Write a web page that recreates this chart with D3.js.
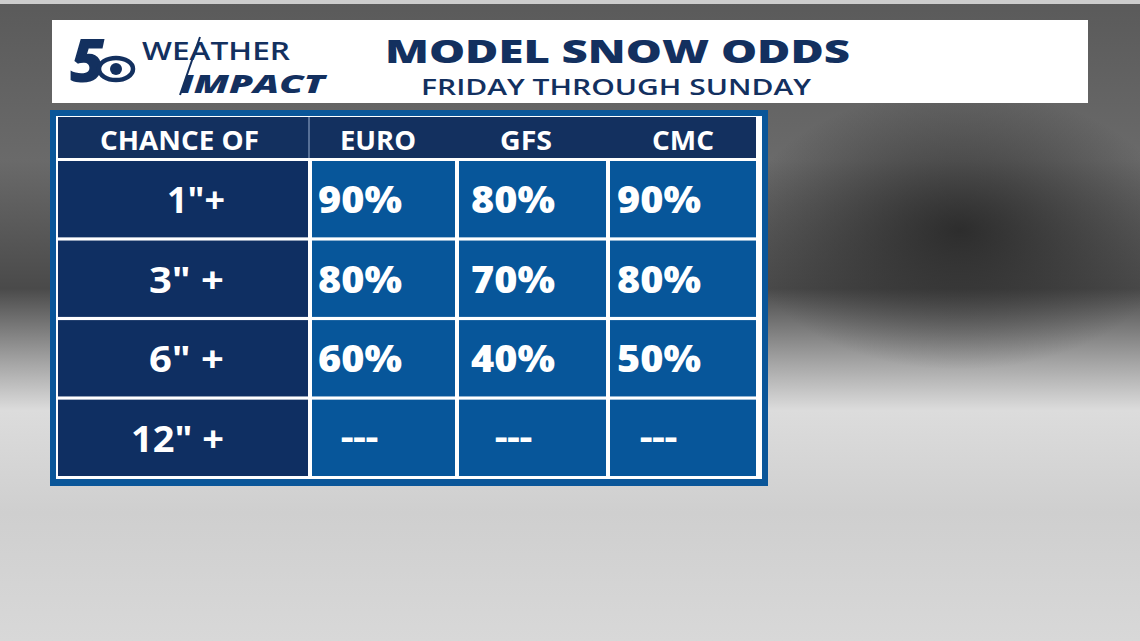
<!DOCTYPE html><html><head><meta charset="utf-8"><script src="https://cdn.jsdelivr.net/npm/d3@7"></script>
<style>body{margin:0;overflow:hidden}svg{display:block}</style></head><body><svg id="c" width="1140" height="641"></svg>
<script>
const title="MODEL SNOW ODDS";
const subtitle="FRIDAY THROUGH SUNDAY";
const headers=["CHANCE OF","EURO","GFS","CMC"];
const rowLabels=['1"+','3" +','6" +','12" +'];
const euro=["90%","80%","60%","---"];
const gfs=["80%","70%","40%","---"];
const cmc=["90%","80%","50%","---"];
const svg=d3.select("#c");
const F="'Open Sans'";
const defs=svg.append("defs");
const bg=defs.append("linearGradient").attr("id","bg").attr("x1",0).attr("y1",0).attr("x2",0).attr("y2",1);
[[0,"#5a5a5a"],[0.25,"#6a6a6a"],[0.45,"#4a4a4a"],[0.56,"#a0a0a0"],[0.64,"#dcdcdc"],[0.8,"#cfcfcf"],[1,"#d8d8d8"]].forEach(s=>bg.append("stop").attr("offset",s[0]).attr("stop-color",s[1]));
svg.append("rect").attr("width",1140).attr("height",641).attr("fill","url(#bg)");
const rg=defs.append("radialGradient").attr("id","dk");
rg.append("stop").attr("offset",0).attr("stop-color","#222").attr("stop-opacity",0.8);
rg.append("stop").attr("offset",1).attr("stop-color","#222").attr("stop-opacity",0);
svg.append("ellipse").attr("cx",960).attr("cy",230).attr("rx",220).attr("ry",140).attr("fill","url(#dk)");
svg.append("rect").attr("x",0).attr("y",0).attr("width",1140).attr("height",4).attr("fill","#ccc");
// banner
svg.append("rect").attr("x",52).attr("y",20).attr("width",1036).attr("height",83).attr("fill","#fff");
const navy="#13305f";
svg.append("text").attr("x",70).attr("y",82).attr("font-family",F).attr("font-weight",800).attr("font-size",60).attr("fill",navy).attr("font-style","italic").text("5");
svg.append("ellipse").attr("cx",116).attr("cy",69).attr("rx",17).attr("ry",11).attr("fill","#fff").attr("stroke",navy).attr("stroke-width",4.5);
svg.append("circle").attr("cx",116).attr("cy",69).attr("r",6).attr("fill",navy);
svg.append("text").attr("x",142).attr("y",60).attr("font-family",F).attr("font-weight",600).attr("font-size",25).attr("fill",navy).attr("textLength",148).attr("lengthAdjust","spacingAndGlyphs").text("WEATHER");
svg.append("text").attr("x",180).attr("y",93).attr("font-family",F).attr("font-weight",800).attr("font-style","italic").attr("font-size",25).attr("fill",navy).attr("textLength",145).attr("lengthAdjust","spacingAndGlyphs").text("IMPACT");
svg.append("line").attr("x1",200).attr("y1",37).attr("x2",180).attr("y2",95).attr("stroke",navy).attr("stroke-width",2);
svg.append("text").attr("x",385).attr("y",63).attr("font-family",F).attr("font-weight",800).attr("font-size",32).attr("fill",navy).attr("textLength",465).attr("lengthAdjust","spacingAndGlyphs").text(title);
svg.append("text").attr("x",421).attr("y",95).attr("font-family",F).attr("font-weight",600).attr("font-size",21).attr("fill",navy).attr("textLength",390).attr("lengthAdjust","spacingAndGlyphs").text(subtitle);
// table
svg.append("rect").attr("x",50).attr("y",110).attr("width",718).attr("height",376).attr("fill","#0a5699");
svg.append("rect").attr("x",56).attr("y",116).attr("width",706).attr("height",363).attr("fill","#fff");
const x=d3.scaleOrdinal().domain(headers).range([58,310,457,608]);
const w=d3.scaleOrdinal().domain(headers).range([250,145,149,148]);
const y=d3.scaleBand().domain(rowLabels).range([161,476]).paddingInner(0.04);
svg.append("rect").attr("x",58).attr("y",117).attr("width",698).attr("height",41).attr("fill",navy);
svg.append("line").attr("x1",309).attr("x2",309).attr("y1",117).attr("y2",158).attr("stroke","#6f86aa").attr("stroke-width",1.5);
const hx=[100,340,500,652], hw=[159,76,52,62];
headers.forEach((h,i)=>svg.append("text").attr("x",hx[i]).attr("y",150).attr("font-family",F).attr("font-weight",700).attr("font-size",26).attr("fill","#fff").attr("textLength",hw[i]).attr("lengthAdjust","spacingAndGlyphs").text(h));
const rx=[167,149,149,131], rw=[58,75,75,93];
const vx=[318,471,617], dx=[341,495,640];
const cols=[euro,gfs,cmc];
rowLabels.forEach((r,ri)=>{
  svg.append("rect").attr("x",x(headers[0])).attr("y",y(r)).attr("width",w(headers[0])).attr("height",y.bandwidth()).attr("fill","#0f2f62");
  svg.append("text").attr("x",rx[ri]).attr("y",y(r)+y.bandwidth()/2+14).attr("font-family",F).attr("font-weight",700).attr("font-size",36).attr("fill","#fff").attr("textLength",rw[ri]).attr("lengthAdjust","spacingAndGlyphs").text(r);
  cols.forEach((c,ci)=>{
    const h=headers[ci+1];
    svg.append("rect").attr("x",x(h)+2).attr("y",y(r)).attr("width",w(h)-2).attr("height",y.bandwidth()).attr("fill","#07569a");
    const dash=c[ri]==="---";
    svg.append("text").attr("x",dash?dx[ci]:vx[ci]).attr("y",y(r)+y.bandwidth()/2+(dash?10:14)).attr("font-family",F).attr("font-weight",800).attr("font-size",dash?30:37).attr("fill","#fff").attr("textLength",dash?37:84).attr("lengthAdjust","spacingAndGlyphs").text(c[ri]);
  });
});
</script></body></html>
